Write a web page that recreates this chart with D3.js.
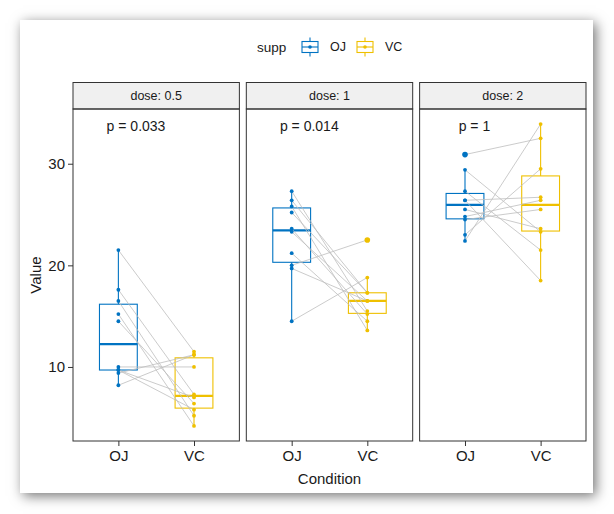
<!DOCTYPE html>
<html>
<head>
<meta charset="utf-8">
<script src="https://cdn.jsdelivr.net/npm/d3@7"></script>
<style>
  body { margin: 0; background: #fff; width: 614px; height: 514px; overflow: hidden; }
  #card { position: absolute; left: 20px; top: 20px; width: 573px; height: 473px; background: #fff;
          box-shadow: 3px 3px 12px rgba(0,0,0,0.55); }
  svg { position: absolute; left: 0; top: 0; }
  text { font-family: "Liberation Sans", Arial, sans-serif; fill: #1a1a1a; }
</style>
</head>
<body>
<div id="card"></div>
<div id="chart"></div>
<script>
// ToothGrowth, paired by row
var doses = ["0.5", "1", "2"];
var groups = ["OJ", "VC"];
var ojValues = [
  [15.2, 21.5, 17.6, 9.7, 14.5, 10, 8.2, 9.4, 16.5, 9.7],
  [19.7, 23.3, 23.6, 26.4, 20, 25.2, 25.8, 21.2, 14.5, 27.3],
  [25.5, 26.4, 22.4, 24.5, 24.8, 30.9, 26.4, 27.3, 29.4, 23]
];
var vcValues = [
  [4.2, 11.5, 7.3, 5.8, 6.4, 10, 11.2, 11.2, 5.2, 7],
  [16.5, 16.5, 15.2, 17.3, 22.5, 17.3, 13.6, 14.5, 18.8, 15.5],
  [23.6, 18.5, 33.9, 25.5, 26.4, 32.5, 26.7, 21.5, 23.3, 29.5]
];
var pLabels = ["p = 0.033", "p = 0.014", "p = 1"];
var yTicks = [10, 20, 30];
var colors = { OJ: "#0073C2", VC: "#EFC000" };

var width = 614, height = 514;
var svg = d3.select("#chart").append("svg")
    .attr("width", width)
    .attr("height", height);

var panelTop = 109, panelBottom = 441, stripTop = 82.5;

var allValues = d3.merge(ojValues.concat(vcValues));
var ext = d3.extent(allValues);
var pad = (ext[1] - ext[0]) * 0.05;
var y = d3.scaleLinear()
    .domain([ext[0] - pad, ext[1] + pad])
    .range([panelBottom, panelTop]);

var panelX = d3.scaleBand()
    .domain(doses)
    .range([73, 586])
    .paddingInner(0.04);

// discrete x inside a facet: positions 1, 2 with 0.6 expansion
var x = d3.scaleLinear()
    .domain([0.4, 2.6])
    .range([0, panelX.bandwidth()]);

function boxStats(vals) {
  var s = vals.slice().sort(d3.ascending);
  var q1 = d3.quantile(s, 0.25), med = d3.quantile(s, 0.5), q3 = d3.quantile(s, 0.75);
  var iqr = q3 - q1;
  var lo = q1 - 1.5 * iqr, hi = q3 + 1.5 * iqr;
  var inside = s.filter(function (v) { return v >= lo && v <= hi; });
  return { q1: q1, med: med, q3: q3, wlo: d3.min(inside), whi: d3.max(inside), lo: lo, hi: hi };
}

doses.forEach(function (dose, i) {
  var g = svg.append("g").attr("transform", "translate(" + panelX(dose) + ",0)");
  var w = panelX.bandwidth();

  // strip
  g.append("rect")
      .attr("x", 0).attr("y", stripTop)
      .attr("width", w).attr("height", panelTop - stripTop)
      .attr("fill", "#F0F0F0").attr("stroke", "#333").attr("stroke-width", 1);
  g.append("text")
      .attr("x", w / 2).attr("y", (stripTop + panelTop) / 2)
      .attr("dy", "0.35em").attr("text-anchor", "middle")
      .style("font-size", "12.5px")
      .text("dose: " + dose);

  var series = { OJ: ojValues[i], VC: vcValues[i] };

  // boxes
  groups.forEach(function (grp, k) {
    var st = boxStats(series[grp]);
    var cx = x(k + 1), bw = (x(1.25) - x(1)) * 2;
    var c = colors[grp];
    g.append("line")
        .attr("x1", cx).attr("x2", cx)
        .attr("y1", y(st.q3)).attr("y2", y(st.whi))
        .attr("stroke", c).attr("stroke-width", 1.1);
    g.append("line")
        .attr("x1", cx).attr("x2", cx)
        .attr("y1", y(st.q1)).attr("y2", y(st.wlo))
        .attr("stroke", c).attr("stroke-width", 1.1);
    g.append("rect")
        .attr("x", cx - bw / 2).attr("y", y(st.q3))
        .attr("width", bw).attr("height", y(st.q1) - y(st.q3))
        .attr("fill", "white").attr("stroke", c).attr("stroke-width", 1.1);
    g.append("line")
        .attr("x1", cx - bw / 2).attr("x2", cx + bw / 2)
        .attr("y1", y(st.med)).attr("y2", y(st.med))
        .attr("stroke", c).attr("stroke-width", 2.2);
    series[grp].stats = st;
  });

  // paired lines
  g.selectAll("line.pair")
      .data(d3.range(ojValues[i].length))
      .enter().append("line")
      .attr("class", "pair")
      .attr("x1", x(1)).attr("x2", x(2))
      .attr("y1", function (j) { return y(ojValues[i][j]); })
      .attr("y2", function (j) { return y(vcValues[i][j]); })
      .attr("stroke", "#BEBEBE").attr("stroke-width", 0.8);

  // points
  groups.forEach(function (grp, k) {
    var st = series[grp].stats;
    g.selectAll("circle." + grp)
        .data(series[grp])
        .enter().append("circle")
        .attr("cx", x(k + 1))
        .attr("cy", function (d) { return y(d); })
        .attr("r", function (d) { return (d < st.lo || d > st.hi) ? 2.8 : 1.9; })
        .attr("fill", colors[grp]);
  });

  // p value
  var pt = g.append("text")
      .attr("y", 131)
      .style("font-size", "14px")
      .text(pLabels[i]);
  var tw = pt.node().getComputedTextLength();
  pt.attr("x", x(1) - 0.2 * tw);

  // panel border
  g.append("rect")
      .attr("x", 0).attr("y", panelTop)
      .attr("width", w).attr("height", panelBottom - panelTop)
      .attr("fill", "none").attr("stroke", "#333").attr("stroke-width", 1);

  // x axis
  var xa = g.append("g")
      .attr("transform", "translate(0," + panelBottom + ")")
      .call(d3.axisBottom(d3.scalePoint().domain(groups).range([x(1), x(2)]))
        .tickSize(5).tickPadding(4));
  xa.select(".domain").remove();
  xa.selectAll("line").attr("stroke", "#333");
  xa.selectAll("text").style("font-size", "15px").attr("fill", "#1a1a1a");
});

// y axis
var ya = svg.append("g")
    .attr("transform", "translate(" + panelX(doses[0]) + ",0)")
    .call(d3.axisLeft(y).tickValues(yTicks).tickSize(5).tickPadding(3));
ya.select(".domain").remove();
ya.selectAll("line").attr("stroke", "#333");
ya.selectAll("text").style("font-size", "15px").attr("fill", "#1a1a1a");

// axis titles
svg.append("text")
    .attr("x", (73 + 586) / 2).attr("y", 484)
    .attr("text-anchor", "middle")
    .style("font-size", "15px")
    .text("Condition");
svg.append("text")
    .attr("transform", "translate(41," + (panelTop + panelBottom) / 2 + ")rotate(-90)")
    .attr("text-anchor", "middle")
    .style("font-size", "15px")
    .text("Value");

// legend
var legend = svg.append("g").attr("transform", "translate(257,47)");
legend.append("text")
    .attr("x", 0).attr("dy", "0.35em")
    .style("font-size", "13.5px")
    .text("supp");
var keyX = [44, 99];
groups.forEach(function (grp, k) {
  var kg = legend.append("g").attr("transform", "translate(" + keyX[k] + ",0)");
  var c = colors[grp];
  kg.append("line").attr("x1", 9).attr("x2", 9).attr("y1", -9.5).attr("y2", 9.5)
      .attr("stroke", c).attr("stroke-width", 1.1);
  kg.append("rect").attr("x", 1).attr("y", -5.5).attr("width", 16).attr("height", 11)
      .attr("fill", "white").attr("stroke", c).attr("stroke-width", 1.1);
  kg.append("line").attr("x1", 1).attr("x2", 17).attr("y1", 0).attr("y2", 0)
      .attr("stroke", c).attr("stroke-width", 1.1);
  kg.append("circle").attr("cx", 9).attr("cy", 0).attr("r", 1.8).attr("fill", c);
  kg.append("text")
      .attr("x", 29).attr("dy", "0.35em")
      .style("font-size", "12.5px")
      .text(grp);
});
</script>
</body>
</html>
